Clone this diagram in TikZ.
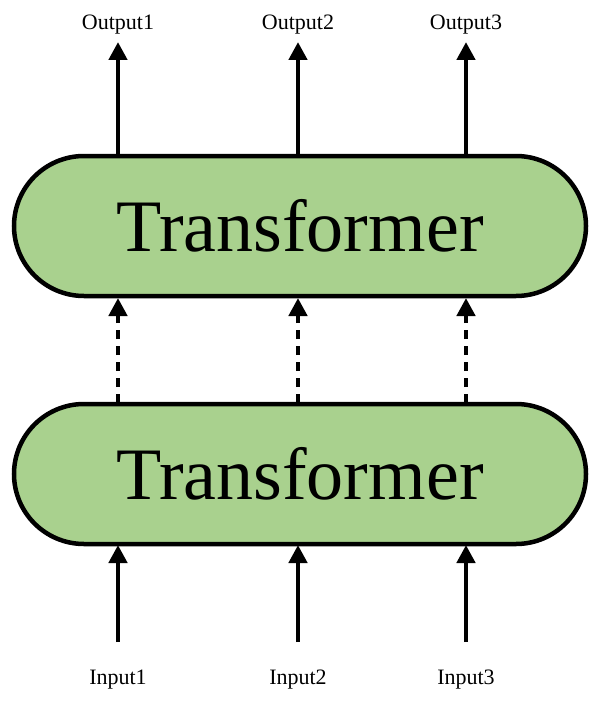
\documentclass[tikz,border=0pt]{standalone}
\usepackage{fontspec}
\setmainfont{Liberation Serif}
\usetikzlibrary{arrows.meta}
\definecolor{boxgreen}{HTML}{A9D18E}
\begin{document}
\begin{tikzpicture}[x=1pt,y=-1pt,
  tbox/.style={draw=black,line width=4.5pt,fill=boxgreen,rounded corners=70pt,minimum width=572pt,minimum height=140pt,font=\fontsize{74}{80}\selectfont},
  lbl/.style={font=\fontsize{22}{26}\selectfont},
  arr/.style={line width=4.5pt,-{Triangle[length=18pt,width=18pt]}},
  darr/.style={arr,dash pattern=on 9pt off 7pt}]
\useasboundingbox (0,0) rectangle (600,706);
\node[tbox] (t2) at (300,226) {Transformer};
\node[tbox] (t1) at (300,474) {Transformer};
\foreach \i/\x in {1/118,2/298,3/466}{
  \node[lbl] (o\i) at (\x,25) {Output\i};
  \node[lbl] (in\i) at (\x,680) {Input\i};
  \coordinate (ot\i) at (\x,42);
  \coordinate (ib\i) at (\x,642);
  \draw[arr] (\x,156) -- (ot\i);
  \draw[arr] (ib\i) -- (\x,545);
  \draw[darr] (\x,403) -- (\x,298);
}
\end{tikzpicture}
\end{document}
